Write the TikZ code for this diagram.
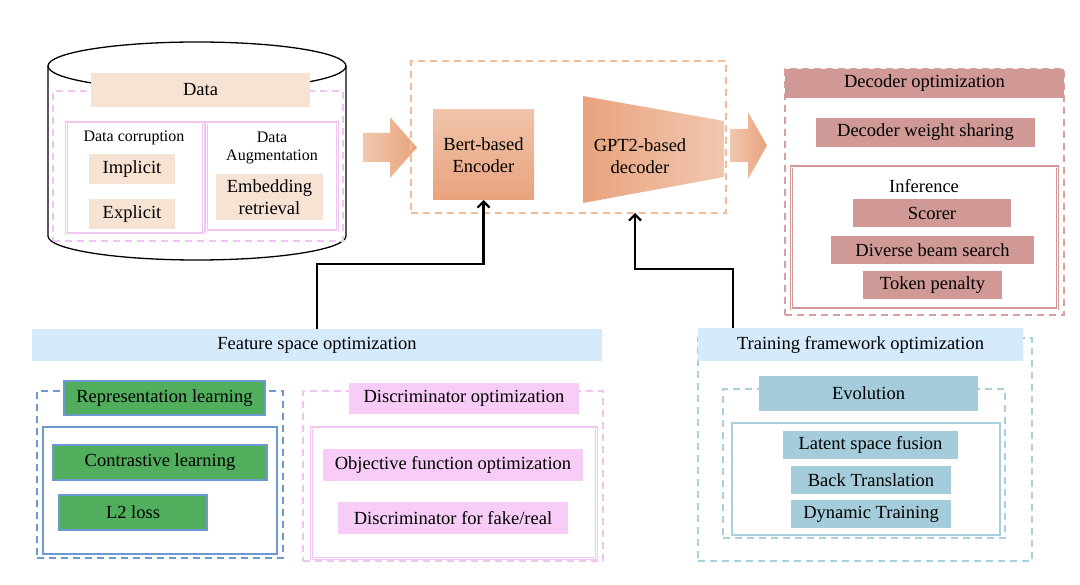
\documentclass[tikz,border=0pt]{standalone}
\usepackage{fontspec}
\setmainfont{Liberation Serif}
\usetikzlibrary{arrows.meta,calc}
\definecolor{peach}{HTML}{F6E3D4}
\definecolor{pinkline}{HTML}{F2C4F2}
\definecolor{pinkfill}{HTML}{F7CDF8}
\definecolor{orline}{HTML}{F2BC98}
\definecolor{ordark}{HTML}{E9A37D}
\definecolor{orlight}{HTML}{F1C7AF}
\definecolor{rose}{HTML}{D09995}
\definecolor{roseline}{HTML}{D8A09C}
\definecolor{skyfill}{HTML}{D5EAFB}
\definecolor{grn}{HTML}{50AE5C}
\definecolor{bluel}{HTML}{6C99D0}
\definecolor{tealf}{HTML}{A4CCDA}
\definecolor{tealline}{HTML}{A9D0DD}
\newcommand\mybox[7][]{\node[base,#1,minimum width={#5-#3},minimum height={#6-#4}] (#2) at ({(#3+#5)/2},{(#4+#6)/2}) {#7};}
\tikzset{
  base/.style={inner sep=0pt, outer sep=0pt, align=center, font=\fontsize{18.5}{21.5}\selectfont},
  small/.style={base, font=\fontsize{16}{18}\selectfont},
  dash box/.style={draw=#1, line width=1.6pt, dash pattern=on 7pt off 5pt},
  dbl box/.style={draw=#1, line width=3pt, postaction={draw=white, line width=0.9pt}},
  solid box/.style={draw=#1, line width=2.4pt},
  conn/.style={line width=2.2pt, -{Straight Barb[length=6pt,width=12pt]}},
  cylline/.style={line width=1.3pt, black},
}
\begin{document}
\begin{tikzpicture}[x=1pt,y=-1pt]
\useasboundingbox (0,0) rectangle (1080,585);
% ---------- data cylinder ----------
\draw[cylline] (48,66) -- (48,236) .. controls (48,249.3) and (114.7,260) .. (197,260)
   .. controls (279.3,260) and (346,249.3) .. (346,236) -- (346,66);
\draw[cylline] (197,66) ellipse [x radius=149, y radius=24];
\mybox[dash box=pinkline]{dataouter}{53}{91}{343}{241}{}
\mybox[fill=peach]{data}{91}{73}{310}{107}{Data}
\mybox[dbl box=pinkline]{corr}{66}{123}{203}{234}{}
\mybox[dbl box=pinkline]{aug}{206}{123}{337}{231}{}
\node[small] (corrlab) at (134,138) {Data corruption};
\node[small] (auglab) at (272,148) {Data\\Augmentation};
\mybox[fill=peach]{impl}{89}{154}{175}{184}{Implicit}
\mybox[fill=peach]{expl}{89}{199}{175}{229}{Explicit}
\mybox[fill=peach]{emb}{216}{174}{323}{220}{Embedding\\retrieval}
% ---------- encoder / decoder ----------
\shade[left color=orlight, right color=ordark] (363,133) -- (390,133) -- (390,117) -- (417,147.5)
   -- (390,178) -- (390,162) -- (363,162) -- cycle;
\mybox[dash box=orline]{enc}{411}{61}{726}{213}{}
\mybox[top color=orlight!90!ordark, bottom color=ordark]{bert}{433}{110}{534}{200}{Bert-based\\Encoder}
\shade[left color=ordark, right color=orlight] (583,96) -- (724,121) -- (724,177) -- (583,203) -- cycle;
\node[base] (gpt) at (640,156) {GPT2-based\\decoder};
\shade[left color=orlight, right color=ordark] (730,129) -- (748,129) -- (748,112) -- (767,145.5)
   -- (748,179) -- (748,162) -- (730,162) -- cycle;
% ---------- decoder optimization ----------
\mybox[dash box=roseline]{decouter}{785}{69}{1064}{315}{}
\mybox[fill=rose]{dechead}{785}{69}{1064}{98}{Decoder optimization}
\mybox[fill=rose]{dws}{816}{118}{1035}{147}{Decoder weight sharing}
\mybox[dbl box=rose]{inf}{791}{167}{1057}{309}{}
\node[base] (inflab) at (924,186) {Inference};
\mybox[fill=rose]{scorer}{853}{199}{1011}{227}{Scorer}
\mybox[fill=rose]{dbs}{831}{236}{1034}{264}{Diverse beam search}
\mybox[fill=rose]{tok}{863}{271}{1002}{299}{Token penalty}
% ---------- feature space ----------
\mybox[fill=skyfill]{fs}{32}{329}{602}{361}{Feature space optimization}
\mybox[dash box=bluel]{repouter}{37}{391}{283}{558}{}
\mybox[fill=grn, draw=bluel, line width=2.4pt]{rep}{64}{381}{265}{415}{Representation learning}
\mybox[solid box=bluel]{repinner}{43}{427}{277}{554}{}
\mybox[fill=grn, draw=bluel, line width=2.4pt]{contr}{53}{445}{267}{480}{Contrastive learning}
\mybox[fill=grn, draw=bluel, line width=2.4pt]{ltwo}{59}{495}{207}{530}{L2 loss}
\mybox[dash box=pinkline]{discouter}{303}{391}{603}{561}{}
\mybox[fill=pinkfill]{disc}{349}{383}{579}{414}{Discriminator optimization}
\mybox[dbl box=pinkline]{discinner}{311}{428}{596}{558}{}
\mybox[fill=pinkfill]{obj}{323}{449}{583}{481}{Objective function optimization}
\mybox[fill=pinkfill]{fake}{338}{502}{568}{534}{Discriminator for fake/real}
% ---------- training framework ----------
\mybox[dash box=tealline]{trouter}{698}{338}{1032}{561}{}
\mybox[fill=skyfill]{tf}{698}{328}{1023}{361}{Training framework optimization}
\mybox[dash box=tealline]{evoouter}{723}{389}{1005}{538}{}
\mybox[fill=tealf]{evo}{759}{376}{978}{411}{Evolution}
\mybox[solid box=tealline]{evoinner}{732}{423}{1000}{535}{}
\mybox[fill=tealf]{lat}{783}{431}{958}{459}{Latent space fusion}
\mybox[fill=tealf]{back}{791}{466}{951}{494}{Back Translation}
\mybox[fill=tealf]{dyn}{791}{500}{951}{528}{Dynamic Training}
% ---------- connectors ----------
\coordinate (b1) at (317,264);
\coordinate (b2) at (483.5,264);
\draw[conn] (b1 |- fs.north) -- (b1) -- (b2) -- (bert.south);
\coordinate (g1) at (733,269);
\coordinate (g2) at (635,269);
\draw[conn] (g1 |- tf.north) -- (g1) -- (g2) -- (g2 |- enc.south);
\end{tikzpicture}
\end{document}
